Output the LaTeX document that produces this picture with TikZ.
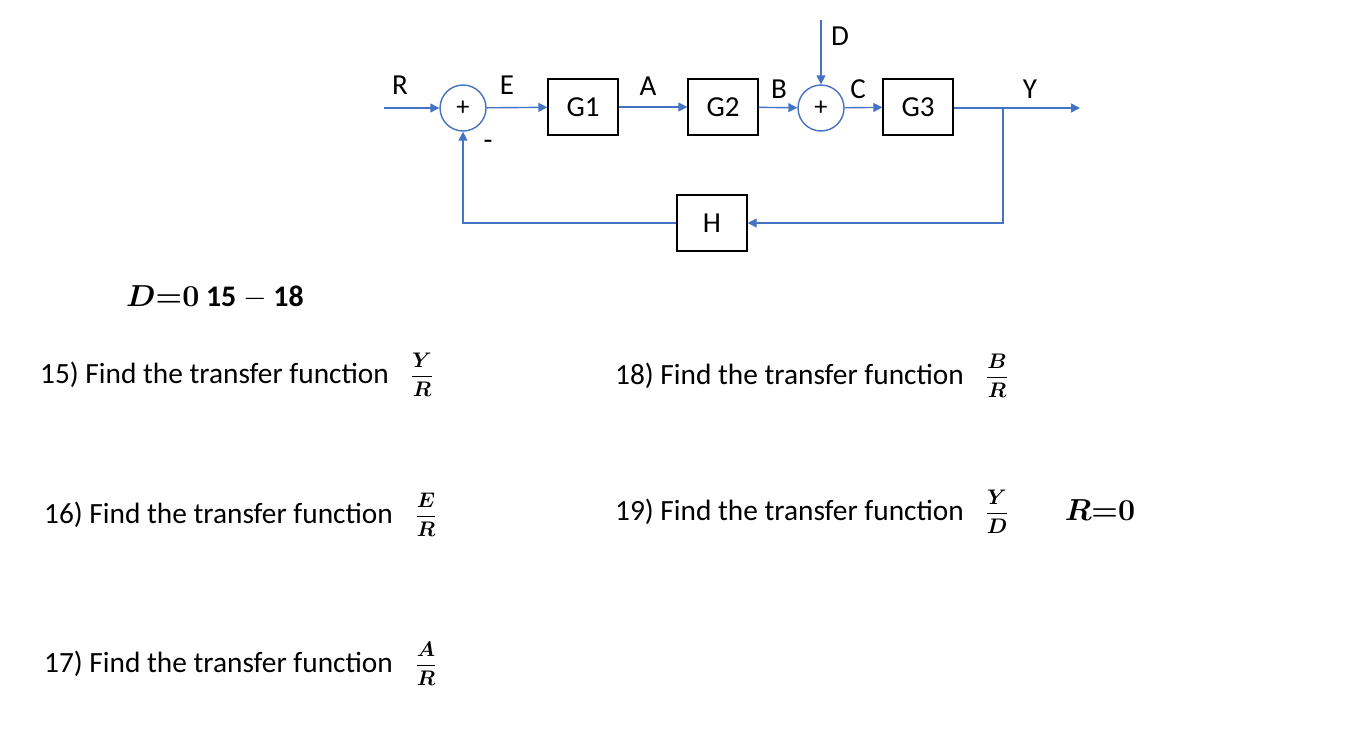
\documentclass[tikz,border=0pt]{standalone}
\usepackage{fontspec}
\usepackage{amsmath,amssymb,bm}
\setmainfont{Carlito}
\usetikzlibrary{positioning,arrows.meta}
\definecolor{lineblue}{RGB}{68,114,196}
\tikzset{
  block/.style={rectangle, draw, thick, minimum width=14mm, minimum height=11.2mm, font=\fontsize{16.5}{18}\selectfont},
  sumnode/.style={circle, draw=lineblue, thick, minimum size=9.2mm, inner sep=0pt, font=\fontsize{15}{17}\selectfont},
  sig/.style={->, lineblue, thick, >={Triangle[length=1.8mm,width=1.8mm]}},
  lbl/.style={font=\fontsize{16.5}{18}\selectfont},
  question/.style={anchor=west, font=\fontsize{16.7}{19}\selectfont},
  frac/.style={font=\fontsize{13}{15}\selectfont},
}
\begin{document}
\begin{tikzpicture}[x=0.02cm, y=-0.02cm]
\useasboundingbox (0,0) rectangle (1345,741);
%Nodes
\node[sumnode] (sum1) at (463,108) {+};
\node[block] (g1) at (583,107) {G1};
\node[block] (g2) at (723,107) {G2};
\node[sumnode] (sum2) at (821,108) {+};
\node[block] (g3) at (918,107) {G3};
\node[block] (h) at (712,223) {H};
\coordinate (rin) at (384,108);
\coordinate (yout) at (1080,108);
\coordinate (branch) at (1003,108);
\coordinate (din) at (821,20);

%Lines
\draw[sig] (rin) -- (sum1);
\draw[sig] (sum1) -- (g1);
\draw[sig] (g1) -- (g2);
\draw[sig] (g2) -- (sum2);
\draw[sig] (sum2) -- (g3);
\draw[sig] (g3.east |- yout) -- (yout);
\draw[sig] (din) -- (sum2);
\draw[sig] (branch) |- (h);
\draw[sig] (h) -| (sum1);

%Labels
\node[lbl] at (400,85) {R};
\node[lbl] at (507,85) {E};
\node[lbl] at (648,86) {A};
\node[lbl] at (779,89) {B};
\node[lbl] at (858,89) {C};
\node[lbl] at (1030,89) {Y};
\node[lbl] at (840,36) {D};
\node[lbl] at (488,145) {-};

%Questions
\node[font=\fontsize{17}{19}\selectfont] at (215,297) {$\boldsymbol{D{=}0}\ \mathbf{15-18}$};
\node[question] (q15) at (34,375) {15) Find the transfer function};
\node[question] (q16) at (38,515) {16) Find the transfer function};
\node[question] (q17) at (38,664) {17) Find the transfer function};
\node[question] (q18) at (609,376) {18) Find the transfer function};
\node[question] (q19) at (609,512) {19) Find the transfer function};
\node[frac] at (422,375) {$\dfrac{\bm{Y}}{\bm{R}}$};
\node[frac] at (426,515) {$\dfrac{\bm{E}}{\bm{R}}$};
\node[frac] at (426,664) {$\dfrac{\bm{A}}{\bm{R}}$};
\node[frac] at (997,376) {$\dfrac{\bm{B}}{\bm{R}}$};
\node[frac] at (997,512) {$\dfrac{\bm{Y}}{\bm{D}}$};
\node[font=\fontsize{17}{19}\selectfont] at (1100,510) {$\boldsymbol{R{=}0}$};
\end{tikzpicture}
\end{document}
